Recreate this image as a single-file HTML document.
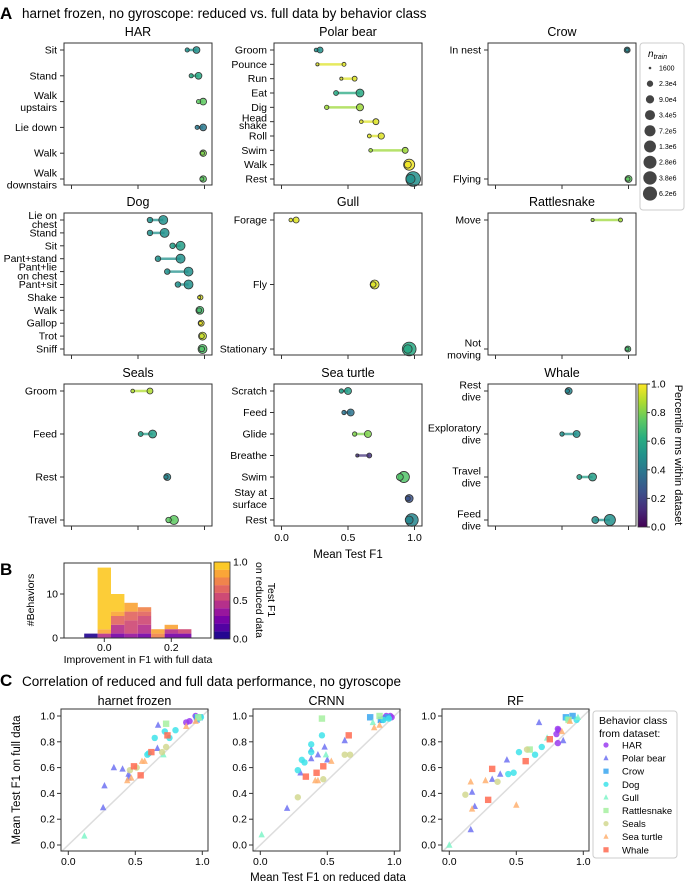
<!DOCTYPE html>
<html><head><meta charset="utf-8"><style>
html,body{margin:0;padding:0;background:#fff}
svg{display:block;font-family:"Liberation Sans",sans-serif}
</style></head><body>
<svg id="fig" width="685" height="884" viewBox="0 0 685 884" xmlns="http://www.w3.org/2000/svg">
<text x="0" y="19" font-size="17" font-weight="bold">A</text>
<text x="22" y="18" font-size="13.5">harnet frozen, no gyroscope: reduced vs. full data by behavior class</text>
<text x="0" y="575" font-size="17" font-weight="bold">B</text>
<text x="0" y="686" font-size="17" font-weight="bold">C</text>
<text x="22" y="686" font-size="13.5">Correlation of reduced and full data performance, no gyroscope</text>
<g id="gA"></g><g id="gB"></g><g id="gC"></g>
</svg>
<script>
// ---------- Panel A data ----------
const harLabels=["Sit","Stand","Walk\nupstairs","Lie down","Walk","Walk\ndownstairs"];
const harReduced=[0.87,0.90,0.955,0.945,0.985,0.98];
const harFull=[0.94,0.955,0.99,0.99,0.99,0.99];
const harPct=[0.5,0.6,0.75,0.4,0.8,0.75];
const harN=[9e5,9e5,9e5,9e5,8e5,8e5];

const polarLabels=["Groom","Pounce","Run","Eat","Dig","Head\nshake","Roll","Swim","Walk","Rest"];
const polarReduced=[0.26,0.27,0.45,0.41,0.34,0.60,0.66,0.67,0.95,0.97];
const polarFull=[0.29,0.47,0.55,0.59,0.59,0.71,0.75,0.93,0.96,0.99];
const polarPct=[0.5,0.95,0.95,0.6,0.85,0.95,0.95,0.85,0.98,0.5];
const polarN=[6e5,1.2e5,3e5,1.4e6,1e6,6e5,7e5,6e5,3.5e6,7e6];

const crowLabels=["In nest","Flying"];
const crowReduced=[0.99,0.995];
const crowFull=[0.99,1.0];
const crowPct=[0.45,0.75];
const crowN=[6e5,1e6];

const dogLabels=["Lie on\nchest","Stand","Sit","Pant+stand","Pant+lie\non chest","Pant+sit","Shake","Walk","Gallop","Trot","Sniff"];
const dogReduced=[0.59,0.59,0.76,0.65,0.72,0.80,0.96,0.96,0.97,0.98,0.98];
const dogFull=[0.69,0.70,0.82,0.82,0.88,0.88,0.97,0.965,0.975,0.985,0.985];
const dogPct=[0.5,0.5,0.55,0.5,0.5,0.5,0.95,0.7,0.97,0.92,0.72];
const dogN=[2e6,2e6,2e6,2e6,2e6,2e6,3e5,1.4e6,6e5,1.4e6,2e6];

const gullLabels=["Forage","Fly","Stationary"];
const gullReduced=[0.07,0.69,0.95];
const gullFull=[0.11,0.70,0.96];
const gullPct=[0.95,0.95,0.6];
const gullN=[6e5,2e6,6e6];

const rattleLabels=["Move","Not\nmoving"];
const rattleReduced=[0.73,0.99];
const rattleFull=[0.94,0.995];
const rattlePct=[0.85,0.7];
const rattleN=[1.2e5,6e5];

const sealsLabels=["Groom","Feed","Rest","Travel"];
const sealsReduced=[0.46,0.52,0.71,0.73];
const sealsFull=[0.59,0.61,0.72,0.77];
const sealsPct=[0.88,0.55,0.45,0.75];
const sealsN=[6e5,1.4e6,1e6,2e6];

const turtleLabels=["Scratch","Feed","Glide","Breathe","Swim","Stay at\nsurface","Rest"];
const turtleReduced=[0.45,0.47,0.55,0.57,0.89,0.95,0.96];
const turtleFull=[0.50,0.52,0.65,0.66,0.92,0.96,0.98];
const turtlePct=[0.55,0.38,0.8,0.15,0.72,0.25,0.45];
const turtleN=[1e6,1e6,1e6,3e5,3.5e6,1.4e6,5e6];

const whaleLabels=["Rest\ndive","Exploratory\ndive","Travel\ndive","Feed\ndive"];
const whaleReduced=[0.54,0.50,0.63,0.75];
const whaleFull=[0.55,0.61,0.73,0.86];
const whalePct=[0.45,0.5,0.55,0.5];
const whaleN=[1e6,1e6,1.4e6,3.5e6];

const legendN=["1600","2.3e4","9.0e4","3.4e5","7.2e5","1.3e6","2.8e6","3.8e6","6.2e6"];
const legendNVal=[1600,2.3e4,9e4,3.4e5,7.2e5,1.3e6,2.8e6,3.8e6,6.2e6];
const axisTicks=[0,0.5,1.0];
const cbTicks=[0,0.2,0.4,0.6,0.8,1.0];

// ---------- Panel B data ----------
const histEdges=[-0.06,-0.02,0.02,0.06,0.10,0.14,0.18,0.22,0.26];
const f1Bins=[0.05,0.15,0.25,0.35,0.45,0.55,0.65,0.75,0.85,0.95];
const cnt0=[1,0,0,0,0,0,0,0];
const cnt1=[0,0,0,0,0,0,0,0];
const cnt2=[0,0,1,0,1,0,1,1];
const cnt3=[0,0,0,1,0,0,0,0];
const cnt4=[0,1,2,0,2,0,1,0];
const cnt5=[0,0,0,3,2,0,0,1];
const cnt6=[0,0,2,2,1,0,0,0];
const cnt7=[0,0,0,0,1,1,0,0];
const cnt8=[0,1,1,2,0,1,1,0];
const cnt9=[0,14,4,0,0,0,0,0];
const histYTicks=[0,10];
const histXTicks=[0.0,0.2];

// ---------- Panel C data ----------
const datasets=["HAR","Polar bear","Crow","Dog","Gull","Rattlesnake","Seals","Sea turtle","Whale"];
const hfRed={HAR:[0.88,0.905,0.95,0.96,0.97],"Polar bear":[0.67,0.34,0.405,0.45,0.27,0.26,0.665,0.45,0.96],Crow:[0.96,0.98],Dog:[0.72,0.80,0.645,0.755,0.59,0.60,0.99,0.97],Gull:[0.12,0.71,0.98],Rattlesnake:[0.73,0.97],Seals:[0.73,0.70,0.51,0.46],"Sea turtle":[0.88,0.55,0.57,0.47,0.44,0.95],Whale:[0.74,0.62,0.49,0.54]};
const hfFull={HAR:[0.95,0.96,1.0,0.99,0.99],"Polar bear":[0.93,0.60,0.59,0.55,0.46,0.29,0.75,0.52,0.97],Crow:[0.99,0.99],Dog:[0.88,0.89,0.83,0.83,0.70,0.71,0.99,0.98],Gull:[0.07,0.70,0.99],Rattlesnake:[0.94,0.99],Seals:[0.76,0.72,0.60,0.58],"Sea turtle":[0.92,0.65,0.65,0.52,0.50,0.96],Whale:[0.85,0.72,0.61,0.54]};
const crRed={HAR:[0.94,0.97,0.92,0.98],"Polar bear":[0.48,0.63,0.38,0.43,0.38,0.50,0.30,0.20,0.9],Crow:[0.82,0.90,0.95],Dog:[0.46,0.38,0.38,0.31,0.33,0.28,0.92,0.96],Gull:[0.01,0.49,0.84],Rattlesnake:[0.46,0.89],Seals:[0.63,0.67,0.47,0.28],"Sea turtle":[0.53,0.41,0.43,0.85,0.89],Whale:[0.66,0.47,0.42,0.34]};
const crFull={HAR:[1.0,1.0,0.98,0.99],"Polar bear":[0.76,0.81,0.74,0.70,0.67,0.66,0.56,0.285,0.97],Crow:[0.99,0.97,0.99],Dog:[0.85,0.78,0.72,0.66,0.64,0.58,0.97,0.98],Gull:[0.08,0.70,0.95],Rattlesnake:[0.98,1.0],Seals:[0.70,0.70,0.51,0.37],"Sea turtle":[0.65,0.50,0.50,0.91,0.93],Whale:[0.85,0.61,0.56,0.53]};
const rfRed={HAR:[0.81,0.80,0.81,0.815],"Polar bear":[0.67,0.43,0.38,0.32,0.17,0.19,0.16,0.85],Crow:[0.87,0.92],Dog:[0.52,0.69,0.64,0.48,0.44,0.88,0.95],Gull:[0.0,0.73,0.96],Rattlesnake:[0.60,0.89],Seals:[0.58,0.36,0.12],"Sea turtle":[0.16,0.27,0.17,0.50,0.84,0.90],Whale:[0.32,0.57,0.29,0.75]};
const rfFull={HAR:[0.90,0.86,0.79,0.89],"Polar bear":[0.95,0.66,0.55,0.51,0.41,0.30,0.12,0.81],Crow:[0.99,1.0],Dog:[0.72,0.76,0.70,0.56,0.55,0.98,0.97],Gull:[0.0,0.83,0.99],Rattlesnake:[0.74,0.97],Seals:[0.74,0.49,0.39],"Sea turtle":[0.49,0.50,0.28,0.31,0.88,0.96],Whale:[0.59,0.65,0.35,0.82]};

// ---------- helpers ----------
const NS="http://www.w3.org/2000/svg";
function mk(tag,attrs,parent,name){const e=document.createElementNS(NS,tag);for(const k in attrs)e.setAttribute(k,attrs[k]);


parent.appendChild(e);return e;}
function hex(c){return [parseInt(c.slice(1,3),16),parseInt(c.slice(3,5),16),parseInt(c.slice(5,7),16)];}
function cmap(stops,t){t=Math.max(0,Math.min(1,t));const n=stops.length-1;const i=Math.min(n-1,Math.floor(t*n));const f=t*n-i;const a=hex(stops[i]),b=hex(stops[i+1]);return "rgb("+a.map((v,k)=>Math.round(v+(b[k]-v)*f)).join(",")+")";}
const VIR=["#440154","#472d7b","#3b528b","#2c728e","#21918c","#28ae80","#5ec962","#addc30","#fde725"];
const PLA=["#0d0887","#4c02a1","#7e03a8","#a92395","#cc4778","#e66c5c","#f89540","#fdc527","#f0f921"];
const rOf=n=>1.2+Math.sqrt(n)/430;
const rLeg=n=>1.3+(Math.log10(n)-3.2)*1.6;

// ---------- Panel A ----------
const gA=document.getElementById('gA');
const panels=[
 ["HAR",harLabels,harReduced,harFull,harPct,harN,64,43,12],
 ["Polar bear",polarLabels,polarReduced,polarFull,polarPct,polarN,274,43,7.5],
 ["Crow",crowLabels,crowReduced,crowFull,crowPct,crowN,488,43,12],
 ["Dog",dogLabels,dogReduced,dogFull,dogPct,dogN,64,213,9],
 ["Gull",gullLabels,gullReduced,gullFull,gullPct,gullN,274,213,12],
 ["Rattlesnake",rattleLabels,rattleReduced,rattleFull,rattlePct,rattleN,488,213,12],
 ["Seals",sealsLabels,sealsReduced,sealsFull,sealsPct,sealsN,64,384,12],
 ["Sea turtle",turtleLabels,turtleReduced,turtleFull,turtlePct,turtleN,274,384,12],
 ["Whale",whaleLabels,whaleReduced,whaleFull,whalePct,whaleN,488,384,12]];
const W=148,H=142;
panels.forEach((p,pi)=>{
 const [title,labels,red,full,pct,nn,L,T,lh]=p;
 const g=mk('g',{},gA,'panel-'+title.toLowerCase().replace(/ /g,'-'));
 const xs=v=>L+7.5+v*133;
 const ys=i=>T+7+i*(H-13)/(labels.length-1);
 const tt=mk('text',{x:L+W/2,y:T-7,'font-size':12.5,'text-anchor':'middle'},g,'panel-title');tt.textContent=title;
 axisTicks.forEach(v=>{mk('line',{x1:xs(v),x2:xs(v),y1:T+H,y2:T+H+4,stroke:'#333','stroke-width':1},g,'x-tick');
  if(pi===7){const t=mk('text',{x:xs(v),y:T+H+15,'font-size':10.5,'text-anchor':'middle'},g,'x-tick-label');t.textContent=v.toFixed(1);}});
 labels.forEach((lab,i)=>{const y=ys(i);
  mk('line',{x1:L-4,x2:L,y1:y,y2:y,stroke:'#333','stroke-width':1},g,'y-tick');
  const lines=lab.split("\n");
  lines.forEach((ln,k)=>{const t=mk('text',{x:L-7,y:y+3.5+(k-(lines.length-1)/2)*lh,'font-size':10.5,'text-anchor':'end'},g,'y-tick-label');t.textContent=ln;});
  const c=cmap(VIR,pct[i]);
  mk('line',{x1:xs(red[i]),x2:xs(full[i]),y1:y,y2:y,stroke:c,'stroke-width':2.5,'stroke-opacity':0.75},g,'range-line');
  const rf=rOf(nn[i]);const rr=Math.max(1.6,rf*0.62);
  mk('circle',{cx:xs(full[i]),cy:y,r:rf,fill:c,'fill-opacity':0.85,stroke:'#333','stroke-width':0.8},g,'full-data-dot');
  mk('circle',{cx:xs(red[i]),cy:y,r:rr,fill:c,'fill-opacity':0.85,stroke:'#333','stroke-width':0.8},g,'reduced-data-dot');
 });
 mk('rect',{x:L,y:T,width:W,height:H,fill:'none',stroke:'#333','stroke-width':1},g,'plot-frame');
});
{const t=mk('text',{x:348,y:558,'font-size':11.5,'text-anchor':'middle'},gA,'x-axis-title');t.textContent="Mean Test F1";}
// n_train legend
{const g=mk('g',{},gA,'ntrain-legend');
 mk('rect',{x:640,y:43,width:44,height:167,rx:3,fill:'#fff',stroke:'#ccc','stroke-width':1},g,'legend-frame');
 const t=mk('text',{x:648,y:57,'font-size':10,'font-style':'italic'},g,'legend-title');t.innerHTML='n<tspan font-size="7" dy="2">train</tspan>';
 legendN.forEach((s,i)=>{const y=68+i*15.7;
  mk('circle',{cx:650,cy:y,r:rLeg(legendNVal[i]),fill:'#444'},g,'legend-dot');
  const l=mk('text',{x:659,y:y+2.5,'font-size':7},g,'legend-label');l.textContent=s;});}
// colorbar viridis
{const g=mk('g',{},gA,'percentile-colorbar');
 const d=mk('defs',{},g,'defs');const lg=mk('linearGradient',{id:'vg',x1:0,y1:1,x2:0,y2:0},d,'gradient');
 VIR.forEach((c,i)=>mk('stop',{offset:i/(VIR.length-1),'stop-color':c},lg,'stop'));
 mk('rect',{x:638,y:384,width:9,height:143,fill:'url(#vg)',stroke:'#333','stroke-width':0.8},g,'colorbar-bar');
 cbTicks.forEach(v=>{const y=527-v*143;mk('line',{x1:647,x2:650,y1:y,y2:y,stroke:'#333'},g,'cb-tick');
  const t=mk('text',{x:651,y:y+3.5,'font-size':10.5},g,'cb-tick-label');t.textContent=v.toFixed(1);});
 const l=mk('text',{x:0,y:0,'font-size':11,transform:'translate(675,455) rotate(90)','text-anchor':'middle'},g,'colorbar-title');l.textContent="Percentile rms within dataset";}

// ---------- Panel B ----------
const gB=document.getElementById('gB');
{const L=64,T=563,Wb=147,Hb=75;
 const xs=v=>104.3+v*335, ys=v=>638-v*4.4;
 const counts=[cnt0,cnt1,cnt2,cnt3,cnt4,cnt5,cnt6,cnt7,cnt8,cnt9];
 const base=histEdges.slice(1).map(()=>0);
 const bcol=v=>cmap(PLA,v*0.93);
 counts.forEach((row,fi)=>{row.forEach((c,bi)=>{if(!c)return;
  const y0=base[bi],y1=y0+c;base[bi]=y1;
  mk('rect',{x:xs(histEdges[bi]),y:ys(y1),width:xs(histEdges[bi+1])-xs(histEdges[bi]),height:ys(y0)-ys(y1),fill:bcol(f1Bins[fi]),'fill-opacity':0.92},gB,'hist-bar');});});
 mk('rect',{x:L,y:T,width:Wb,height:Hb,fill:'none',stroke:'#333'},gB,'plot-frame');
 histYTicks.forEach(v=>{mk('line',{x1:L-4,x2:L,y1:ys(v),y2:ys(v),stroke:'#333'},gB,'y-tick');const t=mk('text',{x:L-6,y:ys(v)+3.5,'font-size':10.5,'text-anchor':'end'},gB,'y-tick-label');t.textContent=v;});
 histXTicks.forEach(v=>{mk('line',{x1:xs(v),x2:xs(v),y1:T+Hb,y2:T+Hb+4,stroke:'#333'},gB,'x-tick');const t=mk('text',{x:xs(v),y:651,'font-size':10.5,'text-anchor':'middle'},gB,'x-tick-label');t.textContent=v.toFixed(1);});
 let t=mk('text',{x:138,y:663,'font-size':10.5,'text-anchor':'middle'},gB,'x-axis-title');t.textContent="Improvement in F1 with full data";
 t=mk('text',{x:0,y:0,'font-size':10.5,'text-anchor':'middle',transform:'translate(34,600) rotate(-90)'},gB,'y-axis-title');t.textContent="#Behaviors";
 f1Bins.forEach((v,i)=>mk('rect',{x:214,y:639-(i+1)*7.7,width:16,height:7.8,fill:bcol(v)},gB,'cb-segment'));
 mk('rect',{x:214,y:562,width:16,height:77,fill:'none',stroke:'#333','stroke-width':0.8},gB,'cb-frame');
 [0,0.5,1].forEach(v=>{const y=639-v*77;const tt=mk('text',{x:233,y:y+3.5,'font-size':10.5},gB,'cb-tick-label');tt.textContent=v.toFixed(1);});
 t=mk('text',{x:0,y:0,'font-size':10.5,'text-anchor':'middle',transform:'translate(268,600) rotate(90)'},gB,'colorbar-title');t.textContent="Test F1";
 t=mk('text',{x:0,y:0,'font-size':10.5,'text-anchor':'middle',transform:'translate(256,600) rotate(90)'},gB,'colorbar-title-2');t.textContent="on reduced data";}

// ---------- Panel C ----------
const gC=document.getElementById('gC');
const dsColor=["#9b3cf0","#6f72f2","#3aa6f0","#3ee3ea","#7ff5c8","#a6f0a0","#d2d890","#ffb070","#ff6a50"];
const dsShape=["c","t","s","c","t","s","c","t","s"];
function marker(g,shape,x,y,col,r,name){
 if(shape==='c')return mk('circle',{cx:x,cy:y,r:r,fill:col,'fill-opacity':0.85},g,name);
 if(shape==='s')return mk('rect',{x:x-r,y:y-r,width:2*r,height:2*r,fill:col,'fill-opacity':0.85},g,name);
 return mk('polygon',{points:`${x},${y-r-0.5} ${x-r},${y+r-0.5} ${x+r},${y+r-0.5}`,fill:col,'fill-opacity':0.85},g,name);}
[["harnet frozen",hfRed,hfFull,61],["CRNN",crRed,crFull,253],["RF",rfRed,rfFull,442]].forEach(([title,R,F,L])=>{
 const g=mk('g',{},gC,'scatter-'+title.toLowerCase().replace(/ /g,'-'));
 const T=709,Wc=147,Hc=142;
 const xs=v=>L+7.3+v*134, ys=v=>845-v*129;
 let t=mk('text',{x:L+Wc/2,y:T-4,'font-size':12.5,'text-anchor':'middle'},g,'subplot-title');t.textContent=title;
 mk('line',{x1:xs(-0.05),y1:ys(-0.05),x2:xs(1.05),y2:ys(1.05),stroke:'#ddd','stroke-width':1.5},g,'identity-line');
 datasets.forEach((d,di)=>{R[d].forEach((v,i)=>marker(g,dsShape[di],xs(v),ys(F[d][i]),dsColor[di],3.2,'point-'+d.toLowerCase().replace(/ /g,'-')));});
 mk('rect',{x:L,y:T,width:Wc,height:Hc,fill:'none',stroke:'#333'},g,'plot-frame');
 [0,0.2,0.4,0.6,0.8,1.0].forEach(v=>{mk('line',{x1:L-4,x2:L,y1:ys(v),y2:ys(v),stroke:'#333'},g,'y-tick');t=mk('text',{x:L-6,y:ys(v)+3.5,'font-size':10.5,'text-anchor':'end'},g,'y-tick-label');t.textContent=v.toFixed(1);});
 axisTicks.forEach(v=>{mk('line',{x1:xs(v),x2:xs(v),y1:T+Hc,y2:T+Hc+4,stroke:'#333'},g,'x-tick');t=mk('text',{x:xs(v),y:865,'font-size':10.5,'text-anchor':'middle'},g,'x-tick-label');t.textContent=v.toFixed(1);});
});
{let t=mk('text',{x:328,y:881,'font-size':11.5,'text-anchor':'middle'},gC,'x-axis-title');t.textContent="Mean Test F1 on reduced data";
 t=mk('text',{x:0,y:0,'font-size':11.5,'text-anchor':'middle',transform:'translate(20,780) rotate(-90)'},gC,'y-axis-title');t.textContent="Mean Test F1 on full data";
 const g=mk('g',{},gC,'dataset-legend');
 mk('rect',{x:593,y:711,width:84,height:147,rx:3,fill:'#fff',stroke:'#ccc'},g,'legend-frame');
 t=mk('text',{x:599,y:724,'font-size':10.5},g,'legend-title');t.textContent="Behavior class";
 t=mk('text',{x:599,y:737,'font-size':10.5},g,'legend-title-2');t.textContent="from dataset:";
 datasets.forEach((d,i)=>{const y=745+i*13.1;marker(g,dsShape[i],606,y,dsColor[i],2.6,'legend-marker');
  const l=mk('text',{x:622,y:y+3.5,'font-size':9.5},g,'legend-entry');l.textContent=d;});}
</script>
</body></html>
